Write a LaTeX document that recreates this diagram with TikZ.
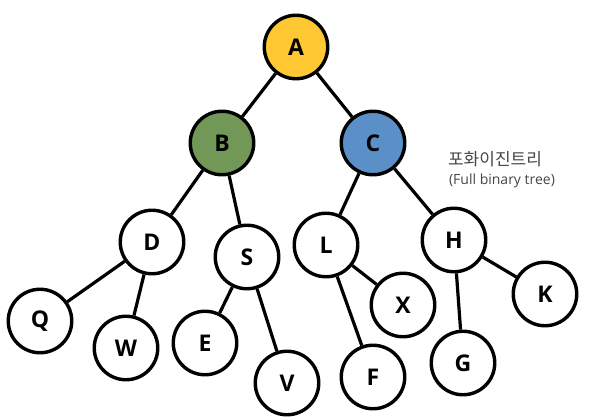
\documentclass[tikz,border=0pt]{standalone}
\usepackage{fontspec}
\setmainfont{Open Sans}
\newfontfamily\krfont{Noto Sans CJK KR}
\usetikzlibrary{arrows,shapes}

\begin{document}
\begin{tikzpicture}[x=1pt,y=-1pt]
		
		\definecolor{treeyellow}{RGB}{255,200,50}
		\definecolor{treegreen}{RGB}{113,152,86}
		\definecolor{treeblue}{RGB}{91,143,200}
		\definecolor{notegray}{RGB}{70,70,70}
		
		\useasboundingbox (0,0) rectangle (592,420);
		
		\tikzstyle{edge} = [draw,-,line width=3.2pt]
		\tikzset{vertex/.style = {shape=circle,draw,line width=3.4pt,fill=white,minimum size=63.5pt,inner sep=0pt,font=\fontsize{23}{25}\selectfont\bfseries}}
		
		% root and first level
		\node[vertex,fill=treeyellow] (a) at (296,47) {A};
		\node[vertex,fill=treegreen] (b) at (222,143) {B};
		\node[vertex,fill=treeblue] (c) at (373,143) {C};
		
		% second level
		\node[vertex] (d) at (152,242) {D};
		\node[vertex] (s) at (247,257) {S};
		\node[vertex] (l) at (326,245) {L};
		\node[vertex] (h) at (454,240) {H};
		
		% leaves
		\node[vertex] (q) at (40,321) {Q};
		\node[vertex] (w) at (126,348) {W};
		\node[vertex] (e) at (205,343) {E};
		\node[vertex] (v) at (287,383) {V};
		\node[vertex] (f) at (373,377) {F};
		\node[vertex] (x) at (403,305) {X};
		\node[vertex] (g) at (463,363) {G};
		\node[vertex] (k) at (545,294) {K};
		
		% caption
		\node[text=notegray,font=\krfont\fontsize{17}{19}\selectfont] (title) at (495,159) {포화이진트리};
		\node[text=notegray,font=\fontsize{14}{16}\selectfont] (subtitle) at (502,181) {(Full binary tree)};
		
		\draw[edge] (a) to (b);
		\draw[edge] (a) to (c);
		\draw[edge] (b) to (d);
		\draw[edge] (b) to (s);
		\draw[edge] (c) to (l);
		\draw[edge] (c) to (h);
		\draw[edge] (d) to (q);
		\draw[edge] (d) to (w);
		\draw[edge] (s) to (e);
		\draw[edge] (s) to (v);
		\draw[edge] (l) to (f);
		\draw[edge] (l) to (x);
		\draw[edge] (h) to (g);
		\draw[edge] (h) to (k);
		\end{tikzpicture}
\end{document}
